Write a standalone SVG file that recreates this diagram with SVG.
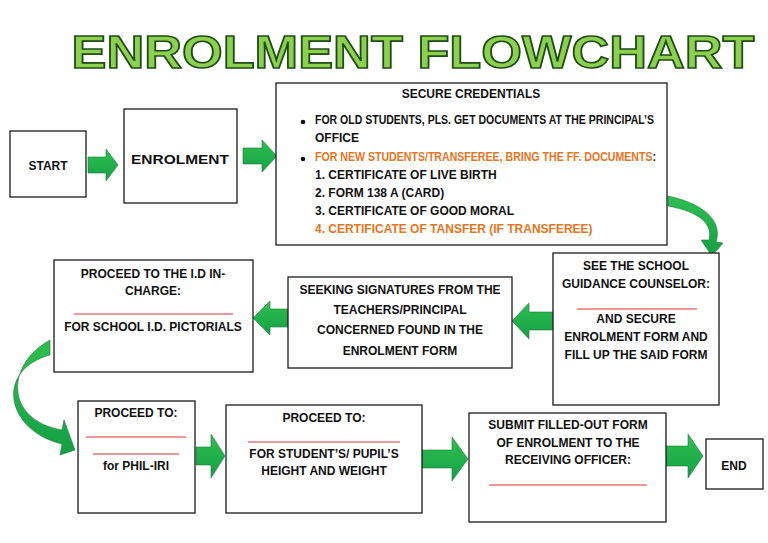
<svg xmlns="http://www.w3.org/2000/svg" width="768" height="543" viewBox="0 0 768 543">
<defs>
<style>
.box{fill:#fff;stroke:#1a1a1a;stroke-width:1.3}
.t{font-family:"Liberation Sans",Arial,sans-serif;font-weight:bold;font-size:12px;fill:#111}
.c{text-anchor:middle}
.o{fill:#e8741c}
.red{stroke:#e03030;stroke-width:1}
.arr{fill:url(#g);stroke:#1f7a3a;stroke-width:0.6}
</style>
<linearGradient id="g" x1="0" y1="0" x2="0" y2="1"><stop offset="0" stop-color="#2fbf4f"/><stop offset="1" stop-color="#14a046"/></linearGradient>
</defs>
<text x="413" y="68" text-anchor="middle" font-family="Liberation Sans,Arial,sans-serif" font-weight="900" font-size="46" fill="#8cd14e" stroke="#1f4a1a" stroke-width="1.6" textLength="683" lengthAdjust="spacingAndGlyphs">ENROLMENT FLOWCHART</text>

<g id="connectors">
<polygon class="arr" points="88,157 106,157 106,149 118,165 106,181 106,173 88,173"/>
<polygon class="arr" points="243,148 262,148 262,140 277,156 262,172 262,164 243,164"/>
<polygon class="arr" points="553,312 529,312 529,303 512,321 529,339 529,330 553,330"/>
<polygon class="arr" points="288,309 270,309 270,301 253,318 270,335 270,327 288,327"/>
<polygon class="arr" points="196,447 211,447 211,434 225,456 211,478 211,465 196,465"/>
<polygon class="arr" points="422,450 452,450 452,437 468,459 452,481 452,468 422,468"/>
<polygon class="arr" points="665,446 688,446 688,434 703,456 688,478 688,466 665,466"/>
<path class="arr" d="M668,196 C710,205 722,225 716,242 L723,243 L712,256 L701,240 L709,240 C713,224 700,212 668,206 Z"/>
<path class="arr" d="M50,340 C5,365 5,420 62,430 L64,420 L75,450 L60,455 L62,444 C5,430 -5,370 50,355 Z"/>
</g>

<g id="start"><rect class="box" x="10" y="131" width="76" height="66"/><text class="t c" x="48" y="170" font-size="14">START</text></g>
<g id="enrolment"><rect class="box" x="124" y="109" width="113" height="94"/><text class="t c" x="180" y="164" font-size="15" textLength="98" lengthAdjust="spacingAndGlyphs">ENROLMENT</text></g>

<g id="credentials"><rect class="box" x="276" y="83" width="391" height="162"/>
<text class="t c" x="471" y="98" font-size="10">SECURE CREDENTIALS</text>
<circle cx="303" cy="122" r="2.3" fill="#111"/>
<text class="t" x="315" y="124" font-size="10" textLength="339" lengthAdjust="spacingAndGlyphs">FOR OLD STUDENTS, PLS. GET DOCUMENTS AT THE PRINCIPAL’S</text>
<text class="t" x="315" y="142" font-size="10">OFFICE</text>
<circle cx="303" cy="159" r="2.3" fill="#111"/>
<text class="t" x="315" y="161" font-size="10" textLength="341" lengthAdjust="spacingAndGlyphs"><tspan class="o">FOR NEW STUDENTS/TRANSFEREE, BRING THE FF. DOCUMENTS</tspan>:</text>
<text class="t" x="315" y="179" font-size="10">1. CERTIFICATE OF LIVE BIRTH</text>
<text class="t" x="315" y="197" font-size="10">2. FORM 138 A (CARD)</text>
<text class="t" x="315" y="215" font-size="10">3. CERTIFICATE OF GOOD MORAL</text>
<text class="t o" x="315" y="233" font-size="10">4. CERTIFICATE OF TANSFER (IF TRANSFEREE)</text>
</g>

<g id="counselor"><rect class="box" x="553" y="253" width="166" height="152"/>
<text class="t c" x="636" y="270">SEE THE SCHOOL</text>
<text class="t c" x="636" y="288">GUIDANCE COUNSELOR:</text>
<line class="red" x1="577" y1="309" x2="697" y2="309"/>
<text class="t c" x="636" y="323">AND SECURE</text>
<text class="t c" x="636" y="341">ENROLMENT FORM AND</text>
<text class="t c" x="636" y="359">FILL UP THE SAID FORM</text>
</g>

<g id="signatures"><rect class="box" x="288" y="277" width="224" height="91"/>
<text class="t c" x="400" y="294">SEEKING SIGNATURES FROM THE</text>
<text class="t c" x="400" y="314">TEACHERS/PRINCIPAL</text>
<text class="t c" x="400" y="334">CONCERNED FOUND IN THE</text>
<text class="t c" x="400" y="355">ENROLMENT FORM</text>
</g>

<g id="idcharge"><rect class="box" x="54" y="260" width="199" height="112"/>
<text class="t c" x="153" y="278">PROCEED TO THE I.D IN-</text>
<text class="t c" x="153" y="295">CHARGE:</text>
<line class="red" x1="74" y1="314" x2="233" y2="314"/>
<text class="t c" x="153" y="331">FOR SCHOOL I.D. PICTORIALS</text>
</g>

<g id="philiri"><rect class="box" x="78" y="401" width="117" height="112"/>
<text class="t c" x="136" y="417">PROCEED TO:</text>
<line class="red" x1="86" y1="437" x2="186" y2="437"/>
<line class="red" x1="93" y1="454" x2="179" y2="454"/>
<text class="t c" x="136" y="470">for PHIL-IRI</text>
</g>

<g id="height"><rect class="box" x="226" y="405" width="196" height="108"/>
<text class="t c" x="324" y="422">PROCEED TO:</text>
<line class="red" x1="248" y1="442" x2="400" y2="442"/>
<text class="t c" x="324" y="458">FOR STUDENT’S/ PUPIL’S</text>
<text class="t c" x="324" y="475">HEIGHT AND WEIGHT</text>
</g>

<g id="submit"><rect class="box" x="469" y="413" width="197" height="109"/>
<text class="t c" x="568" y="429">SUBMIT FILLED-OUT FORM</text>
<text class="t c" x="568" y="447">OF ENROLMENT TO THE</text>
<text class="t c" x="568" y="464">RECEIVING OFFICER:</text>
<line class="red" x1="489" y1="485" x2="647" y2="485"/>
</g>

<g id="end"><rect class="box" x="706" y="439" width="57" height="50"/><text class="t c" x="734" y="470" font-size="14">END</text></g>
</svg>
